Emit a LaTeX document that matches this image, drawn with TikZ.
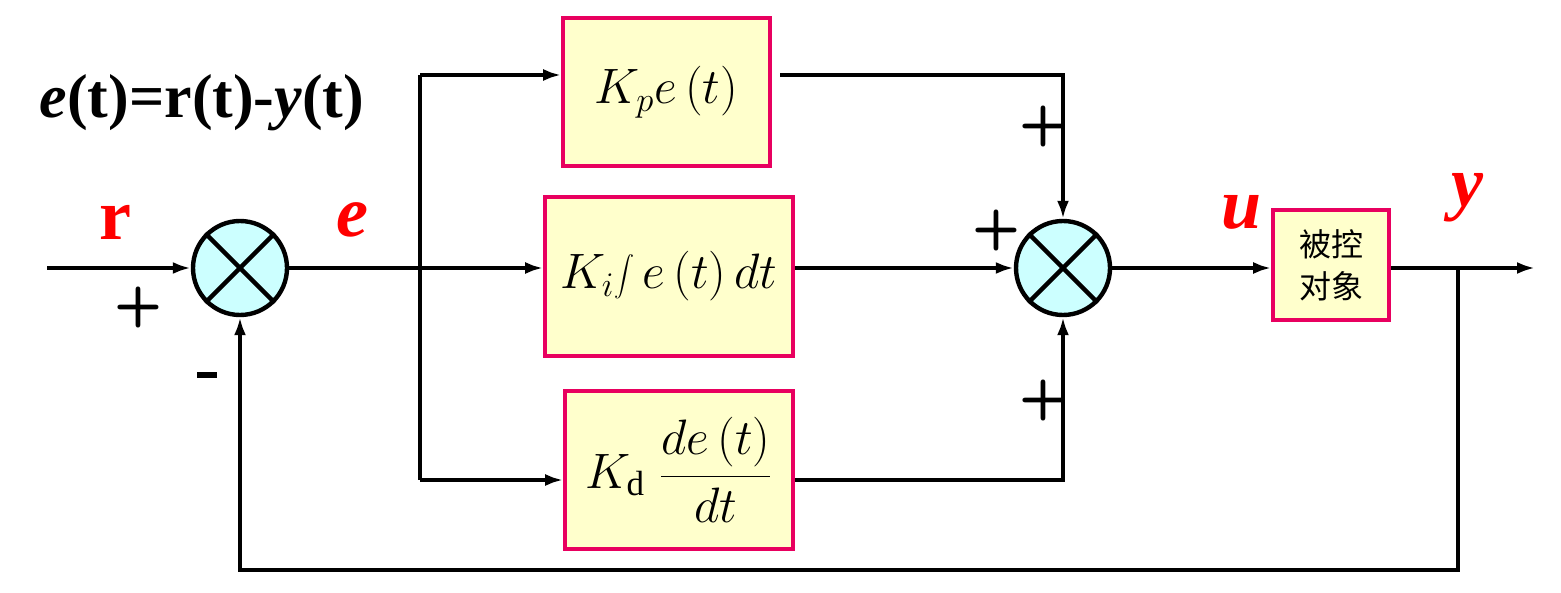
\documentclass[tikz,border=0pt]{standalone}
\usepackage{fontspec}
\setmainfont{Liberation Serif}
\newfontfamily\cjk{Noto Sans CJK SC}
\usetikzlibrary{arrows.meta}
\definecolor{bpink}{HTML}{E8005F}
\definecolor{byel}{HTML}{FFFFCC}
\definecolor{ccyan}{HTML}{CCFFFF}
\definecolor{lred}{HTML}{FF0000}
\begin{document}
\begin{tikzpicture}[x=0.5pt,y=-0.5pt,
  sum/.style={circle,draw=black,fill=ccyan,line width=2.2pt,minimum size=47pt,inner sep=0pt},
  blk/.style={draw=bpink,fill=byel,line width=1.8pt,inner sep=0pt,font=\fontsize{25}{28}\selectfont},
  ln/.style={line width=1.8pt},
  ar/.style={ln,-{Latex[length=9pt,width=6pt]}},
  sgn/.style={font=\fontsize{28}{30}\selectfont\bfseries\sffamily},
  lbl/.style={text=lred,font=\fontsize{36}{40}\selectfont\bfseries}]
\useasboundingbox (0,0) rectangle (1561,593);
\node[sum] (s1) at (240,268) {};
\node[sum] (s2) at (1063,268) {};
\foreach \s in {s1,s2}{
  \draw[line width=2.2pt] (\s.north east) -- (\s.south west);
  \draw[line width=2.2pt] (\s.north west) -- (\s.south east);}
\node[blk,minimum width=103.5pt,minimum height=74pt] (kp) at (666.5,92) {$K_{p}e\left(t\right)$};
\node[blk,minimum width=124pt,minimum height=79.5pt] (ki) at (669,276.5) {$\displaystyle K_{i}\!\int e\left(t\right)dt$};
\node[blk,minimum width=114pt,minimum height=79pt] (kd) at (679,470) {$\displaystyle K_{\mathrm{d}}\;\frac{de\left(t\right)}{dt}$};
\node[blk,minimum width=58pt,minimum height=55pt,align=center,font=\cjk\fontsize{16}{21}\selectfont] (pl) at (1331,265) {被控\\对象};
\coordinate (in) at (47,268);
\coordinate (br) at (420,268);
\coordinate (out) at (1535,268);
\coordinate (fb) at (1458,268);
\draw[ar] (in) -- (s1.west);
\draw[ar] (s1.east) -- (s1.east -| ki.west);
\draw[ln] (br) |- (420,75) coordinate (bt);
\draw[ln] (br) |- (420,480) coordinate (bb);
\draw[ar] (bt) -- (kp.west |- bt);
\draw[ar] (bb) -- (kd.west |- bb);
\draw[ar] (780,75) -| (s2.north);
\draw[ar] (ki.east |- s2) -- (s2.west);
\draw[ar] (kd.east |- bb) -| (s2.south);
\draw[ar] (s2.east) -- (pl.west |- s2);
\draw[ar] (pl.east |- s2) -- (out);
\draw[ar] (fb) -- (1458,570) -| (s1.south);
\node[lbl] at (115,222) {r};
\node[lbl] at (352,220) {\itshape e};
\node[lbl] at (1242,212) {\itshape u};
\node[lbl] at (1467,198) {\itshape y};
\node[sgn] at (138,307) {+};
\node[fill=black,minimum width=10pt,minimum height=3pt,inner sep=0pt] at (207,375) {};
\node[sgn] at (1043,127) {+};
\node[sgn] at (996,230) {+};
\node[sgn] at (1043,400) {+};
\node[font=\fontsize{31}{34}\selectfont\bfseries] at (202,103) {\textit{e}(t)=r(t)-\textit{y}(t)};
\end{tikzpicture}
\end{document}
